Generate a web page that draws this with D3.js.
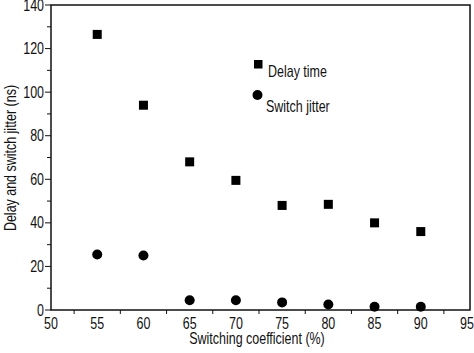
<!doctype html>
<html>
<head>
<script src="https://cdn.jsdelivr.net/npm/d3@7"></script>
<style>
body { margin: 0; background: #fff; }
text { font-family: "Liberation Sans", Arial, sans-serif; fill: #111; }
</style>
</head>
<body>
<svg width="474" height="353"></svg>
<script>
// values
var coefficients = [55, 60, 65, 70, 75, 80, 85, 90];
var delayTime = [126.5, 94, 68, 59.5, 48, 48.5, 40, 36];
var switchJitter = [25.5, 25, 4.5, 4.5, 3.5, 2.5, 1.5, 1.5];
var xTicks = [50, 55, 60, 65, 70, 75, 80, 85, 90, 95];
var yTicks = [0, 20, 40, 60, 80, 100, 120, 140];

var svg = d3.select("svg");
var x = d3.scaleLinear().domain([50, 95]).range([51, 467]);
var y = d3.scaleLinear().domain([0, 140]).range([310, 5]);

// narrow text like the original (Arial Narrow look)
function label(g, px, py, str, anchor, size, sx, rot) {
  return g.append("text")
    .attr("transform", "translate(" + px + "," + py + ")" + (rot ? " rotate(" + rot + ")" : "") + " scale(" + sx + ",1)")
    .attr("text-anchor", anchor)
    .style("font-size", size + "px")
    .text(str);
}

// frame
svg.append("rect")
  .attr("x", x(50)).attr("y", y(140))
  .attr("width", 470 - x(50)).attr("height", y(0) - y(140))
  .style("fill", "none").style("stroke", "#111").style("stroke-width", "1.5px");

// y axis ticks
var yAxis = svg.append("g");
yAxis.selectAll("line.major").data(yTicks).enter().append("line")
  .attr("x1", x(50) - 6).attr("x2", x(50))
  .attr("y1", d => y(d)).attr("y2", d => y(d))
  .style("stroke", "#111");
yAxis.selectAll("line.minor").data(d3.range(10, 140, 20)).enter().append("line")
  .attr("x1", x(50) - 4).attr("x2", x(50))
  .attr("y1", d => y(d)).attr("y2", d => y(d))
  .style("stroke", "#111");
yTicks.forEach(d => label(yAxis, x(50) - 7, y(d) + 5.5, d, "end", 16, 0.78));

// x axis ticks
var xAxis = svg.append("g");
xAxis.selectAll("line").data(d3.range(52.5, 95, 5)).enter().append("line")
  .attr("x1", d => x(d)).attr("x2", d => x(d))
  .attr("y1", y(0)).attr("y2", y(0) + 4)
  .style("stroke", "#111");
xTicks.forEach(d => label(xAxis, x(d), y(0) + 19, d, "middle", 16, 0.78));

// axis titles
label(svg, 257, 344, "Switching coefficient (%)", "middle", 16, 0.78);
label(svg, 16, 158, "Delay and switch jitter (ns)", "middle", 16, 0.78, -90);

// series
var s = 9;
svg.selectAll("rect.delay").data(coefficients).enter().append("rect")
  .attr("class", "delay")
  .attr("x", d => x(d) - s / 2)
  .attr("y", (d, i) => y(delayTime[i]) - s / 2)
  .attr("width", s).attr("height", s)
  .style("fill", "#000");
svg.selectAll("circle.jitter").data(coefficients).enter().append("circle")
  .attr("class", "jitter")
  .attr("cx", d => x(d))
  .attr("cy", (d, i) => y(switchJitter[i]))
  .attr("r", 5)
  .style("fill", "#000");

// legend
svg.append("rect").attr("x", 254).attr("y", 60).attr("width", 8.5).attr("height", 8.5).style("fill", "#000");
label(svg, 268, 76.5, "Delay time", "start", 16, 0.78);
svg.append("circle").attr("cx", 257.5).attr("cy", 95).attr("r", 5).style("fill", "#000");
label(svg, 266, 111.5, "Switch jitter", "start", 16, 0.78);
</script>
</body>
</html>
